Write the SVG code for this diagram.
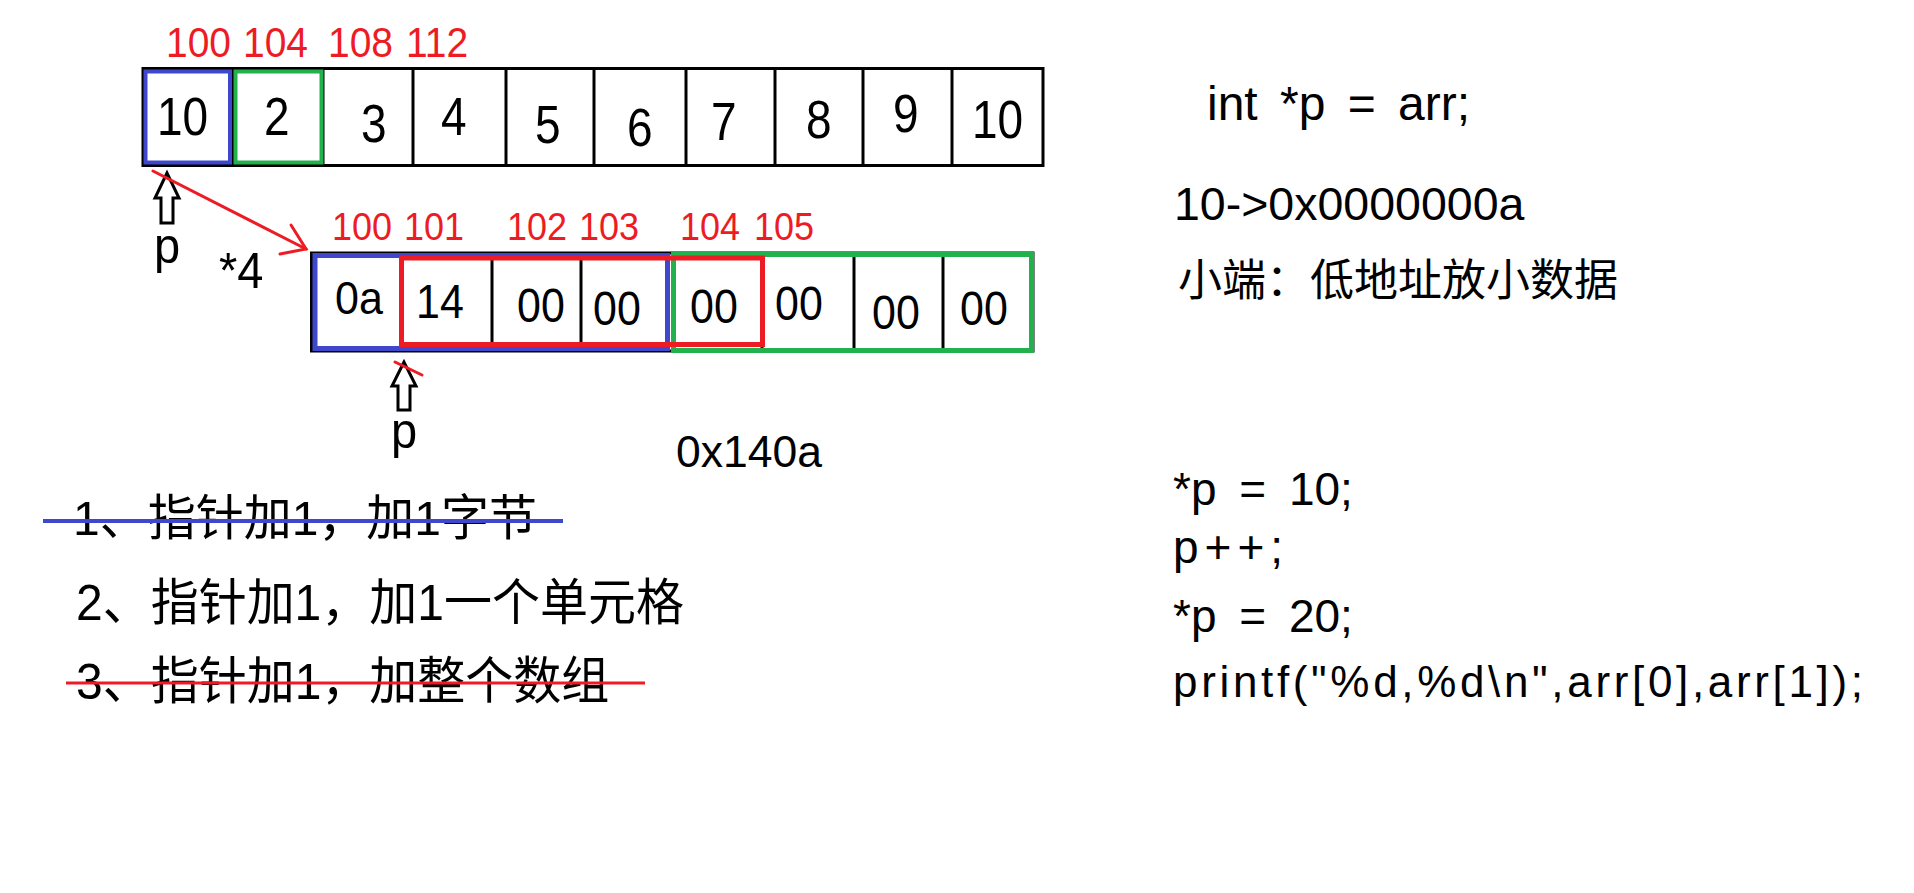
<svg xmlns="http://www.w3.org/2000/svg" width="1914" height="893" viewBox="0 0 1914 893">
<style>
text{font-family:"Liberation Sans","Noto Sans CJK SC",sans-serif;fill:#000}
.red{fill:#ED1C24}
.box{fill:none;stroke:#000;stroke-width:3}
.div{stroke:#000;stroke-width:3}
.blue{fill:none;stroke:#3F48CC}
.green{fill:none;stroke:#22B14C}
.redb{fill:none;stroke:#ED1C24}
.hollow{fill:#fff;stroke:#000;stroke-width:3;stroke-linejoin:miter}
.rl{fill:none;stroke:#ED1C24;stroke-width:3;stroke-linecap:round}
</style>
<rect width="1914" height="893" fill="#fff"/>

<g id="top-array">
  <rect class="box" x="143" y="68.5" width="900" height="97"/>
  <line class="div" x1="233" y1="68.5" x2="233" y2="165.5"/>
  <line class="div" x1="323" y1="68.5" x2="323" y2="165.5"/>
  <line class="div" x1="413" y1="68.5" x2="413" y2="165.5"/>
  <line class="div" x1="506" y1="68.5" x2="506" y2="165.5"/>
  <line class="div" x1="594" y1="68.5" x2="594" y2="165.5"/>
  <line class="div" x1="686" y1="68.5" x2="686" y2="165.5"/>
  <line class="div" x1="775" y1="68.5" x2="775" y2="165.5"/>
  <line class="div" x1="863" y1="68.5" x2="863" y2="165.5"/>
  <line class="div" x1="952" y1="68.5" x2="952" y2="165.5"/>
  <rect class="blue" stroke-width="4" x="145.5" y="71.5" width="84.5" height="91"/>
  <rect class="green" stroke-width="4" x="235.5" y="71.5" width="86" height="91"/>
  <g font-size="46">
    <text transform="translate(157,135) scale(1,1.17)">10</text>
    <text transform="translate(264,135) scale(1,1.17)">2</text>
    <text transform="translate(361,142) scale(1,1.17)">3</text>
    <text transform="translate(441,135) scale(1,1.17)">4</text>
    <text transform="translate(535,143) scale(1,1.17)">5</text>
    <text transform="translate(627,146) scale(1,1.17)">6</text>
    <text transform="translate(711,140) scale(1,1.17)">7</text>
    <text transform="translate(806,138) scale(1,1.17)">8</text>
    <text transform="translate(893,132) scale(1,1.17)">9</text>
    <text transform="translate(972,138) scale(1,1.17)">10</text>
  </g>
  <g font-size="39">
    <text class="red" transform="translate(166,57) scale(1,1.1)">100</text>
    <text class="red" transform="translate(243,57) scale(1,1.1)">104</text>
    <text class="red" transform="translate(328,57) scale(1,1.1)">108</text>
    <text class="red" transform="translate(406,57) scale(1,1.1)">112</text>
  </g>
</g>

<g id="byte-row">
  <rect class="box" x="311.5" y="253" width="721.5" height="98"/>
  <line class="div" x1="492" y1="253" x2="492" y2="351"/>
  <line class="div" x1="581" y1="253" x2="581" y2="351"/>
  <line class="div" x1="762" y1="253" x2="762" y2="351"/>
  <line class="div" x1="854" y1="253" x2="854" y2="351"/>
  <line class="div" x1="943" y1="253" x2="943" y2="351"/>
  <rect class="blue" stroke-width="5" x="315" y="255.5" width="352.5" height="93"/>
  <rect class="green" stroke-width="5" x="673.5" y="254.5" width="358" height="96"/>
  <rect class="redb" stroke-width="5" x="401.5" y="258" width="361" height="86.5"/>
  <g font-size="43">
    <text transform="translate(335,314) scale(1,1.08)">0a</text>
    <text transform="translate(416,318) scale(1,1.12)">14</text>
    <text transform="translate(517,322) scale(1,1.12)">00</text>
    <text transform="translate(593,325) scale(1,1.12)">00</text>
    <text transform="translate(690,323) scale(1,1.12)">00</text>
    <text transform="translate(775,320) scale(1,1.12)">00</text>
    <text transform="translate(872,329) scale(1,1.12)">00</text>
    <text transform="translate(960,325) scale(1,1.12)">00</text>
  </g>
  <g font-size="36">
    <text class="red" transform="translate(332,240) scale(1,1.08)">100</text>
    <text class="red" transform="translate(404,240) scale(1,1.08)">101</text>
    <text class="red" transform="translate(507,240) scale(1,1.08)">102</text>
    <text class="red" transform="translate(579,240) scale(1,1.08)">103</text>
    <text class="red" transform="translate(680,240) scale(1,1.08)">104</text>
    <text class="red" transform="translate(754,240) scale(1,1.08)">105</text>
  </g>
</g>

<g id="pointer-labels" font-size="47">
  <text transform="translate(154,263) scale(1,1.05)">p</text>
  <text transform="translate(219,288) scale(1,1.08)">*4</text>
  <text transform="translate(391,448) scale(1,1.05)">p</text>
  <text transform="translate(676,467)" font-size="44.5">0x140a</text>
</g>

<g id="connectors">
  <path class="hollow" d="M167,173 L155,198 L161,198 L161,223 L173,223 L173,198 L179,198 Z"/>
  <path class="hollow" d="M404,362 L392,386 L398,386 L398,410 L410,410 L410,386 L416,386 Z"/>
  <line class="rl" x1="153" y1="171" x2="306" y2="249"/>
  <path class="rl" d="M291,225 L306,249 L280,254"/>
  <line class="rl" x1="395" y1="362" x2="422" y2="375"/>
</g>

<g id="notes" font-size="48">
  <text transform="translate(73,535) scale(1,1.02)">1、指针加1，加1字节</text>
  <text transform="translate(76,620) scale(1,1.04)">2、指针加1，加1一个单元格</text>
  <text transform="translate(76,699) scale(1,1.06)">3、指针加1，加整个数组</text>
  <line x1="43" y1="521" x2="563" y2="521" stroke="#3F48CC" stroke-width="4"/>
  <line x1="66" y1="683" x2="645" y2="683" stroke="#ED1C24" stroke-width="3"/>
</g>

<g id="code">
  <text x="1207" y="120" font-size="48" word-spacing="9">int *p = arr;</text>
  <text x="1174" y="220" font-size="46.5">10-&gt;0x0000000a</text>
  <text x="1178" y="296" font-size="44">小端：低地址放小数据</text>
  <text x="1173" y="505" font-size="46" word-spacing="10">*p = 10;</text>
  <text x="1173" y="563" font-size="46" letter-spacing="6">p++;</text>
  <text x="1173" y="632" font-size="46" word-spacing="10">*p = 20;</text>
  <text x="1173" y="697" font-size="44" textLength="690" lengthAdjust="spacing">printf("%d,%d\n",arr[0],arr[1]);</text>
</g>
</svg>
